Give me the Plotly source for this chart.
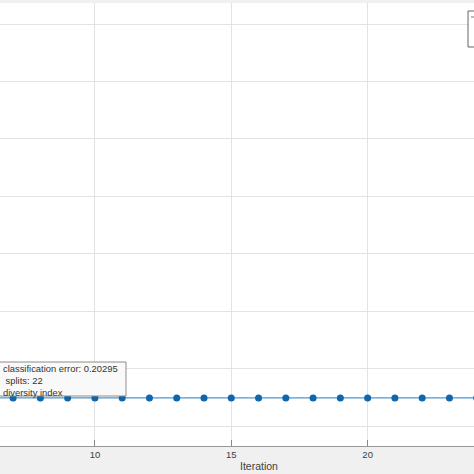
import plotly.graph_objects as go

# visible part of the optimisation trace
iterations = list(range(6, 26))
min_error = [0.20295] * len(iterations)

# data tip text, as far as it shows inside the crop
tip_lines = ["classification error: 0.20295",
             "&nbsp;splits: 22",
             "diversity index"]

W, H = 474, 474
ml, mr, mt, mb = 0, 0, 3, 28
ph = H - mt - mb


def py(pix):
    # pixel row -> paper y
    return (H - mb - pix) / ph


fig = go.Figure()
fig.add_trace(go.Scatter(
    x=iterations, y=min_error, mode='lines+markers',
    name='Min observed objective',
    line=dict(color='#4d97d1', width=1.2),
    marker=dict(color='#0f66ad', size=7),
    showlegend=False))

# data tip box (runs off the left edge)
fig.add_shape(type='rect', xref='paper', yref='paper',
              x0=-0.1, x1=126 / W, y0=py(396), y1=py(362),
              fillcolor='#f9f9f9', line=dict(color='#8c8c8c', width=1),
              layer='above')
fig.add_annotation(
    xref='paper', yref='paper', x=1 / W, y=py(380),
    xanchor='left', yanchor='middle', align='left',
    text='<br>'.join(tip_lines), showarrow=False,
    font=dict(family='Liberation Sans', size=9.4, color='#333333'))

# legend box (cut by the right edge)
fig.add_shape(type='rect', xref='paper', yref='paper',
              x0=468 / W, x1=1.05, y0=py(47), y1=py(11),
              fillcolor='white', line=dict(color='#666666', width=1),
              layer='above')
fig.add_shape(type='line', xref='paper', yref='paper',
              x0=471 / W, x1=1.02, y0=py(17), y1=py(17),
              line=dict(color='#777777', width=1), layer='above')

fig.add_annotation(
    xref='paper', yref='paper', x=259 / W, y=py(466),
    xanchor='center', yanchor='middle', showarrow=False,
    text='Iteration',
    font=dict(family='Liberation Sans', size=10.5, color='#404040'))

g0 = 0.20246   # a grid row sits here, one step is 0.001
fig.update_layout(
    width=W, height=H,
    margin=dict(l=ml, r=mr, t=mt, b=mb, pad=0),
    paper_bgcolor='#f0f0f0', plot_bgcolor='white',
    showlegend=False,
    xaxis=dict(range=[6.52, 23.9], tick0=0, dtick=5,
               showgrid=True, gridcolor='#e3e3e3', gridwidth=1,
               ticks='inside', ticklen=6, tickcolor='#888888',
               showline=True, linecolor='#999999', linewidth=1,
               zeroline=False,
               tickfont=dict(family='Liberation Sans', size=9.5, color='#404040')),
    yaxis=dict(range=[g0 - 0.000348, g0 + 0.007369], tick0=g0, dtick=0.001,
               showgrid=True, gridcolor='#e3e3e3', gridwidth=1,
               showticklabels=False, ticks='', zeroline=False, showline=False),
)

# drop the browser's default page margin so the figure sits at (0, 0)
fig.write_html("out.html", config={'displayModeBar': False},
               post_script="document.body.style.margin='0';")
